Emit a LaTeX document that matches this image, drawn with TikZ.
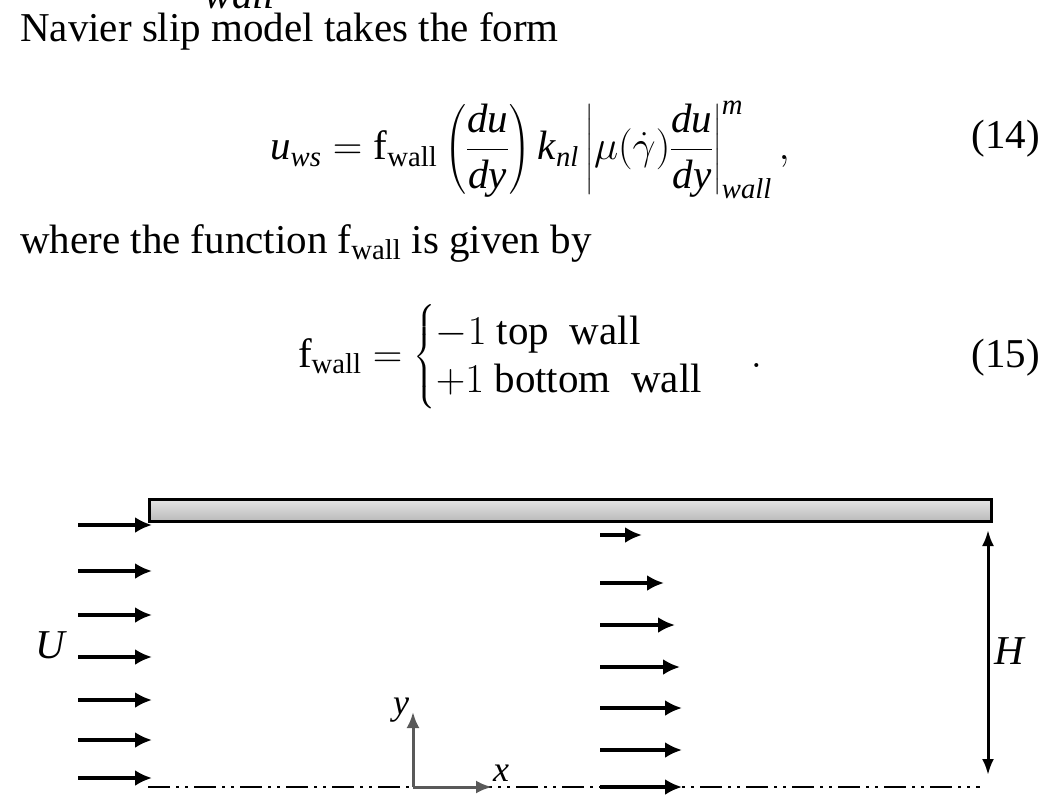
\RequirePackage{fix-cm}
\documentclass[tikz,border=0pt]{standalone}
\usepackage{amsmath}
\usepackage{fontspec}
\setmainfont{Liberation Serif}
\usetikzlibrary{arrows.meta}
\newcommand{\mi}[1]{\mathit{#1}}
\begin{document}
\begin{tikzpicture}[x=1pt,y=-1pt,
  txt/.style={inner sep=0pt,font=\fontsize{41}{48}\selectfont},
  flow/.style={line width=3.8pt,-{Latex[length=17pt,width=16pt]}},
  axis/.style={line width=3pt,gray!70!black,-{Latex[length=16pt,width=13pt]}}]
\useasboundingbox (0,0) rectangle (1057,800);
\begin{scope}
\clip (0,0) rectangle (1057,800);
\node[txt,anchor=south] (wl) at (240,9) {$\mi{wall}$};
\end{scope}
\node[txt,anchor=base west] (t1) at (20,42) {Navier slip model takes the form};
\node[txt] (e14) at (530,150) {$\displaystyle \mi{u}_{\mi{ws}} = \mathrm{f}_{\mathrm{wall}}\left(\frac{\mi{du}}{\mi{dy}}\right)\mi{k}_{\mi{nl}}\left|\mu(\dot\gamma)\frac{\mi{du}}{\mi{dy}}\right|^{\mi{m}}_{\mi{wall}},$};
\node[txt,anchor=base east] (n14) at (1040,148) {(14)};
\node[txt,anchor=base west] (t2) at (20,253) {where the function f$_{\text{wall}}$ is given by};
\node[txt] (e15) at (530,357) {$\mathrm{f}_{\mathrm{wall}} = \begin{cases}-1 \text{ top\ \ wall}\\[-10pt] +1 \text{ bottom\ \ wall}\end{cases}.$};
\node[txt,anchor=base east] (n15) at (1040,367) {(15)};
% wall
\node[draw,line width=3pt,top color=gray!20,bottom color=gray!55,minimum width=842pt,minimum height=22pt,anchor=north west,inner sep=0pt] (wall) at (148,498) {};
% left arrows
\foreach \yy [count=\i] in {525,571,615,657,700,740,778}{
  \coordinate (ls\i) at (78,\yy); \coordinate (le\i) at (152,\yy);
  \draw[flow] (ls\i) -- (le\i);}
% middle arrows
\foreach \yy/\xe [count=\i] in {535/642,583/664,625/675,667/680,708/682,750/682,787/682}{
  \coordinate (ms\i) at (600,\yy); \coordinate (me\i) at (\xe,\yy);
  \draw[flow] (ms\i) -- (me\i);}
% centerline
\coordinate (c1) at (148,787); \coordinate (c2) at (980,787);
\draw[line width=2.6pt,dash pattern=on 22pt off 6pt on 3pt off 6pt on 3pt off 6pt] (c1) -- (c2);
% axes
\coordinate (o) at (413,787); \coordinate (ya) at (413,712); \coordinate (xa) at (492,787);
\draw[axis] (o) -- (ya);
\draw[axis] (o) -- (xa);
\node[txt,font=\fontsize{36}{42}\selectfont] (yl) at (401,710) {$\mi{y}$};
\node[txt,font=\fontsize{36}{42}\selectfont] (xl) at (501,773) {$\mi{x}$};
% H
\coordinate (h1) at (988,530); \coordinate (h2) at (988,775);
\draw[line width=3pt,{Latex[length=16pt,width=12pt]}-{Latex[length=16pt,width=12pt]}] (h1) -- (h2);
\node[txt] (H) at (1009,651) {$\mi{H}$};
\node[txt] (U) at (50,645) {$\mi{U}$};
\end{tikzpicture}
\end{document}
